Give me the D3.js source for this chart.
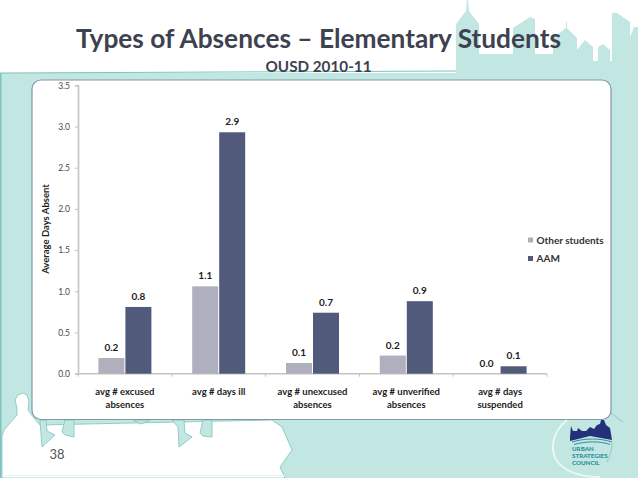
<!DOCTYPE html>
<html>
<head>
<meta charset="utf-8">
<script src="https://cdnjs.cloudflare.com/ajax/libs/d3/7.8.5/d3.min.js"></script>
<style>
html, body { margin: 0; padding: 0; background: #fff; overflow: hidden; }
text { font-family: Lato, "Open Sans", sans-serif; }
</style>
</head>
<body>
<script>
// chart values
const categories = [
    ["avg # excused", "absences"],
    ["avg # days ill"],
    ["avg # unexcused", "absences"],
    ["avg # unverified", "absences"],
    ["avg # days", "suspended"]
];
const otherStudents = [0.19, 1.06, 0.13, 0.22, 0.0];
const aam = [0.81, 2.93, 0.74, 0.88, 0.09];
const yTicks = [0, 0.5, 1.0, 1.5, 2.0, 2.5, 3.0, 3.5];
const seriesNames = ["Other students", "AAM"];
const seriesColors = ["#b0afbd", "#525a7c"];

const width = 638, height = 478;
const teal = "#c2e6e2", tealLine = "#7cc4bb";

const svg = d3.select("body").append("svg")
    .attr("width", width)
    .attr("height", height)
    .attr("viewBox", [0, 0, width, height]);

// slide background
svg.append("rect").attr("width", width).attr("height", height).attr("fill", "#fff");
svg.append("rect").attr("x", 0).attr("y", 73).attr("width", width).attr("height", 405).attr("fill", teal);
svg.append("line").attr("x1", 0).attr("x2", 456).attr("y1", 73).attr("y2", 71)
    .attr("stroke", tealLine).attr("stroke-width", 1);
svg.append("rect").attr("x", 0).attr("y", 73).attr("width", 1.5).attr("height", 405).attr("fill", tealLine);

// skyline behind the title
svg.append("path").attr("fill", teal)
    .attr("d", "M456,80 L456,24 L466,11 L467,0 L468,0 L469,11 L479,24 L479,54 L513,54 L513,28 L530,17 L535,19 L535,54 L553,54 L553,38 L566,28 L566,22 L567,22 L567,28 L577,38 L577,50 L585,40 L593,47 L593,61 L598,61 L598,47 L603,44 L610,50 L610,61 L612,61 L612,13 L617,13 L630,22 L630,37 L634,27 L638,27 L638,80 Z");

// people silhouettes under the panel
svg.append("path").attr("fill", "#fff").attr("stroke", tealLine).attr("stroke-width", 0.8)
    .attr("d", "M2,478 L2,436 L4,430 L17,415 L17,408 L15,400 L18,395 L23,393 L27,395 L29,401 L28,410 L34,418 L40,425 L272,420 L282,427 L292,450 L280,467 L285,478 Z");
// gaps between the people
const gapShapes = [
    "M40,420 L40,422 L42,447 L55,435 L47,431 L46,420 Z",
    "M65,420 L62,432 L65,435 L74,437 L74,420 Z",
    "M133,420 L141,424 L150,420 Z",
    "M172,420 L178,427 L179,447 L192,437 L185,433 L184,420 Z",
    "M203,420 L200,433 L203,436 L212,437 L212,420 Z"
];
svg.append("g").selectAll("path").data(gapShapes).join("path")
    .attr("d", d => d).attr("fill", teal).attr("stroke", tealLine).attr("stroke-width", 0.8);
svg.append("line").attr("x1", 2).attr("x2", 285).attr("y1", 475.5).attr("y2", 475.5)
    .attr("stroke", "#e4f4f2").attr("stroke-width", 1);

// panel
svg.append("rect").attr("x", 32).attr("y", 80).attr("width", 579).attr("height", 339.5).attr("rx", 9)
    .attr("fill", "#fff").attr("stroke", "#7f97a8").attr("stroke-width", 1.2);

// title
svg.append("text").attr("x", 318.5).attr("y", 48).attr("text-anchor", "middle")
    .attr("font-size", 26.5).attr("font-weight", 700).attr("fill", "#3e4150")
    .attr("textLength", 485).attr("lengthAdjust", "spacingAndGlyphs")
    .text("Types of Absences \u2013 Elementary Students");
svg.append("text").attr("x", 318.5).attr("y", 71.5).attr("text-anchor", "middle")
    .attr("font-size", 15).attr("font-weight", 700).attr("fill", "#3e4150")
    .attr("textLength", 106).attr("lengthAdjust", "spacingAndGlyphs")
    .text("OUSD 2010-11");

// scales
const x = d3.scaleBand().domain(d3.range(categories.length)).range([78, 547]);
const y = d3.scaleLinear().domain([0, 3.5]).range([373.7, 85.3]);
const barW = 26, barGap = 1;

// y axis
const yAxis = svg.append("g").attr("transform", "translate(78,0)")
    .call(d3.axisLeft(y).tickValues(yTicks).tickFormat(d3.format(".1f")).tickSize(3).tickPadding(5));
yAxis.selectAll("path, line").attr("stroke", "#c4c4c4");
yAxis.select("path").attr("stroke-width", 1.6);
yAxis.selectAll("text").attr("font-size", 8.5).attr("fill", "#4a4a4a").style("font-family", "Lato");

// x axis
const xTickVals = d3.range(categories.length + 1).map(i => 78 + i * x.step());
const xAxis = svg.append("g").attr("transform", "translate(0,373.7)");
xAxis.append("line").attr("x1", 78).attr("x2", 547).attr("stroke", "#c4c4c4").attr("stroke-width", 1.6);
xAxis.selectAll("line.tick").data(xTickVals).join("line").attr("class", "tick")
    .attr("x1", d => d).attr("x2", d => d).attr("y1", 0).attr("y2", 3)
    .attr("stroke", "#c4c4c4");

// category labels
const catLabels = svg.append("g").selectAll("text").data(categories).join("text")
    .attr("text-anchor", "middle")
    .attr("font-size", 9.5).attr("font-weight", 700).attr("fill", "#1c1c1c")
    .attr("transform", (d, i) => `translate(${x(i) + x.bandwidth() / 2},394.5)`);
catLabels.selectAll("tspan").data(d => d).join("tspan")
    .attr("x", 0).attr("dy", (d, i) => i ? 13 : 0).text(d => d);

// bars and value labels
[otherStudents, aam].forEach((values, s) => {
    const barX = i => x(i) + x.bandwidth() / 2 + (s === 0 ? -barW - barGap / 2 : barGap / 2);
    svg.append("g").selectAll("rect").data(values).join("rect")
        .attr("x", (d, i) => barX(i))
        .attr("y", d => y(d))
        .attr("width", barW)
        .attr("height", d => y(0) - y(d))
        .attr("fill", seriesColors[s]);
    svg.append("g").selectAll("text").data(values).join("text")
        .attr("x", (d, i) => barX(i) + barW / 2)
        .attr("y", d => y(d) - 7)
        .attr("text-anchor", "middle")
        .attr("font-size", 10).attr("font-weight", 700).attr("fill", "#1c1c1c")
        .text(d => d3.format(".1f")(d));
});

// y axis title
svg.append("text").attr("transform", "translate(49,229) rotate(-90)")
    .attr("text-anchor", "middle").attr("font-size", 9.5).attr("font-weight", 700).attr("fill", "#1c1c1c")
    .text("Average Days Absent");

// legend
const legend = svg.append("g").selectAll("g").data(seriesNames).join("g")
    .attr("transform", (d, i) => `translate(528,${240 + i * 18.5})`);
legend.append("rect").attr("x", 0).attr("y", -2.5).attr("width", 5).attr("height", 5)
    .attr("fill", (d, i) => seriesColors[i]);
legend.append("text").attr("x", 8.5).attr("y", 3.5)
    .attr("font-size", 10).attr("font-weight", 700).attr("fill", "#333").text(d => d);

// page number
svg.append("text").attr("x", 49.5).attr("y", 459).attr("font-size", 13).attr("fill", "#555").text("38");

// logo
svg.append("path").attr("fill", "none").attr("stroke", "#e9f7f5").attr("stroke-width", 2)
    .attr("d", "M567,420 C550,434 548,456 563,467 C572,474 586,477 600,477");
svg.append("path").attr("fill", "none").attr("stroke", tealLine).attr("stroke-width", 0.8)
    .attr("d", "M611,413 L623,422 M612,443 C612,450 610,456 607,462");
svg.append("path").attr("fill", "#23307a")
    .attr("d", "M570,437 L571,426 L573,431 L577,431 L578,428 L582,431 L586,431 L590,427 L594,429 L597,425 L600,424 L601,420 L604,420 L606,425 L610,428 L612,440 L590,436 L570,441 Z");
svg.append("path").attr("fill", "none").attr("stroke", "#2f8f9a").attr("stroke-width", 1)
    .attr("d", "M572,442 C585,438 600,438 612,442 M574,444.5 C586,441 600,441 610,444.5");
const logoLines = ["URBAN", "STRATEGIES", "COUNCIL"];
svg.append("g").selectAll("text").data(logoLines).join("text")
    .attr("x", 572).attr("y", (d, i) => 450.5 + i * 7)
    .attr("font-size", 6.2).attr("font-weight", 900).attr("fill", "#2f8f9a").text(d => d);
</script>
</body>
</html>
